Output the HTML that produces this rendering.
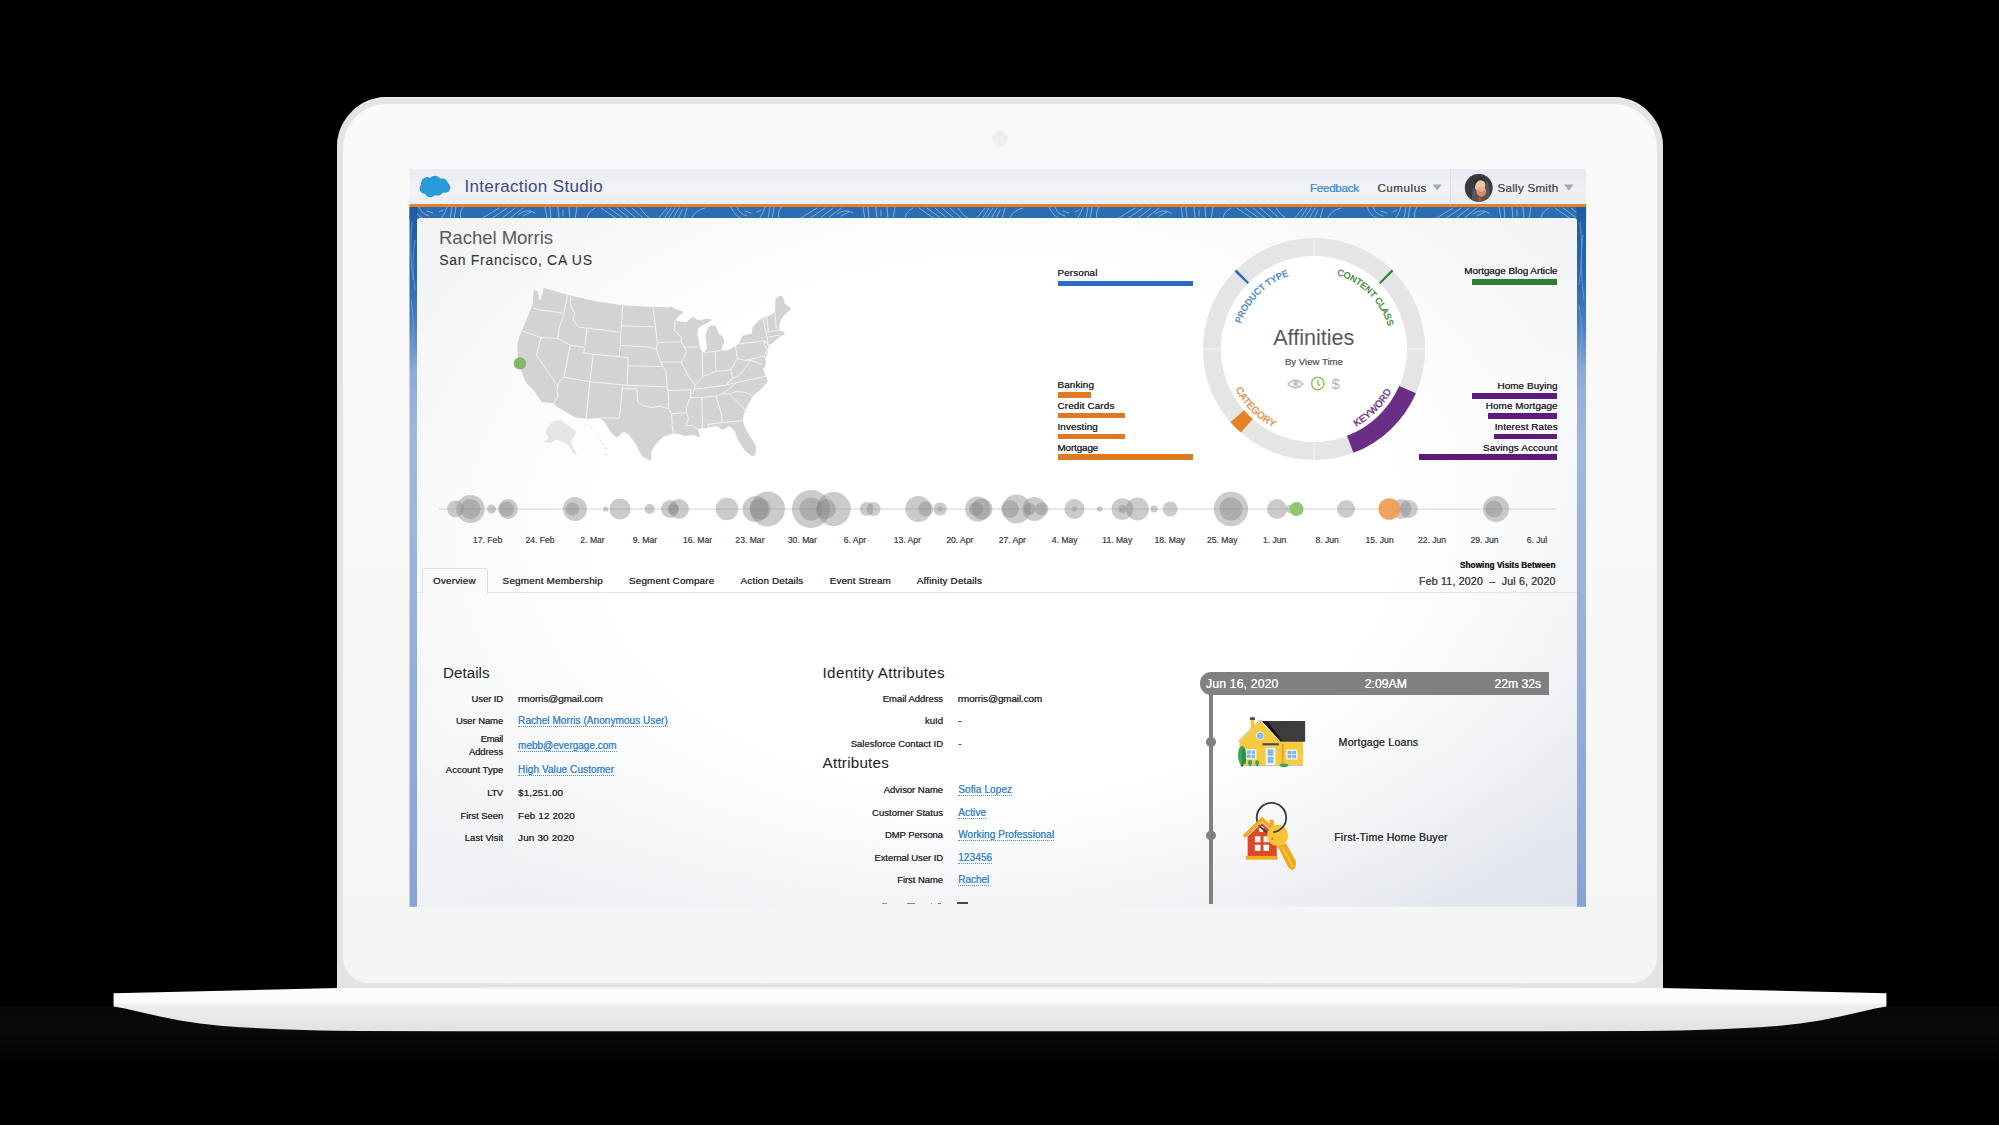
<!DOCTYPE html>
<html lang="en">
<head>
<meta charset="utf-8">
<title>Interaction Studio</title>
<style>
*{box-sizing:border-box;margin:0;padding:0}
html,body{width:1999px;height:1125px;overflow:hidden;background:#000}
body{position:relative;font-family:"Liberation Sans",sans-serif}
.abs{position:absolute}
.t{position:absolute;white-space:pre;line-height:1em;height:1em;text-shadow:0 0 0.4px currentColor}
.lnk{border-bottom:1px dotted #5a9ad6}
#lid{position:absolute;left:337.4px;top:97.4px;width:1325.3px;height:890.8px;background:#e4e4e4;border-radius:50px 50px 0 0}
#lid:before{content:"";position:absolute;left:0;right:0;top:0;height:52px;border-radius:50px 50px 0 0;border-top:1.5px solid #f1f1f1}
#lidin{position:absolute;left:343.4px;top:104.4px;width:1313.3px;height:878.4px;background:linear-gradient(180deg,#fafafa 0%,#f8f8f8 50%,#f5f5f5 100%);border-radius:44px 44px 26px 26px}
#cam{position:absolute;left:992px;top:131.4px;width:16px;height:16px;border-radius:50%;background:#efeff1}
#scr{position:absolute;left:0;top:0;width:1999px;height:1125px;clip-path:polygon(409.5px 169.2px,1586.1px 169.2px,1586.1px 906.8px,409.5px 906.8px)}
#hdr{position:absolute;left:409px;top:169px;width:1178px;height:36px;background:linear-gradient(180deg,#e9ecf0 0%,#f1f3f6 55%,#eceef2 100%)}
#org{position:absolute;left:409px;top:204.4px;width:1178px;height:2.8px;background:#e8802a}
#card{position:absolute;left:417px;top:218.4px;width:1159.6px;height:700px;border-radius:4px 4px 0 0;background:#fff}
</style>
</head>
<body>
<!-- laptop base -->
<svg class="abs" style="left:0;top:0" width="1999" height="1125" viewBox="0 0 1999 1125">
<defs>
<linearGradient id="bg1" x1="0" y1="0" x2="0" y2="1">
<stop offset="0" stop-color="#fdfdfd"/><stop offset="0.32" stop-color="#fbfbfb"/><stop offset="0.41" stop-color="#eeeeee"/><stop offset="0.75" stop-color="#e7e7e7"/><stop offset="0.95" stop-color="#e2e2e2"/><stop offset="1" stop-color="#ebebeb"/>
</linearGradient>
<linearGradient id="sh" x1="0" y1="0" x2="0" y2="1">
<stop offset="0" stop-color="#070707"/><stop offset="0.35" stop-color="#0a0a0a"/><stop offset="1" stop-color="#000"/>
</linearGradient>
</defs>
<rect x="0" y="1006" width="1999" height="62" fill="url(#sh)"/>
<path d="M113.6 993.2 L337.4 988 L1662.7 988 L1886.4 993.2 L1886.4 1006.4 L1875.0 1008.6 L1860.0 1012 L1840.0 1016.6 L1820.0 1020.6 L1800.0 1023.6 L1780.0 1025.7 L1760.0 1027.2 L1720.0 1029.2 L1680.0 1030.4 L1640.0 1031 L1540.0 1031.3 L460 1031.3 L360 1031 L320 1030.4 L280 1029.2 L240 1027.2 L220 1025.7 L200 1023.6 L180 1020.6 L160 1016.6 L140 1012 L125 1008.6 L113.6 1006.4 Z" fill="url(#bg1)"/>
</svg>
<div id="lid"></div>
<div id="lidin"></div>
<div id="cam"></div>
<div class="abs" style="left:482px;top:986.6px;width:1036px;height:2.6px;background:#f3f3f3"></div>
<div id="scr">
<div id="hdr"></div>
<svg class="abs" style="left:0;top:0" width="1999" height="1125" viewBox="0 0 1999 1125">
<defs>
<linearGradient id="lstripe" x1="0" y1="0" x2="0" y2="1">
<stop offset="0" stop-color="#1d5ba4"/><stop offset="0.10" stop-color="#2a67ae"/><stop offset="0.17" stop-color="#4a7fc0"/><stop offset="0.235" stop-color="#8dabd9"/><stop offset="0.34" stop-color="#a0b8df"/><stop offset="1" stop-color="#88a4d4"/>
</linearGradient>
<pattern id="topo" x="411" y="207" width="318" height="12" patternUnits="userSpaceOnUse">
<g fill="none" stroke="#a9c8ea" stroke-width="0.7" stroke-linecap="round">
<path d="M2 0 Q6 10 14 12 M8 0 Q10 7 18 9 M16 4 L22 6 M28 5 L32 3 M36 0 Q34 7 30 12 M41 0 L39 12 M45 0 L43 12 M52 0 Q48 6 50 12"/>
<path d="M70 12 L88 1 M80 12 L96 1 M90 12 L104 1 M98 12 L112 1 M108 7 Q116 1 124 6 M112 9 L120 5"/>
<path d="M134 0 L136 12 M139 0 L140 12 M147 0 L148 12 M152 3 L152 9 M158 0 L159 12 M166 0 L164 12 M176 12 Q176 5 184 1"/>
<path d="M190 1 L206 12 M198 1 L213 12 M206 1 L219 12 M213 1 L226 12 M221 1 L233 12 M229 1 Q234 9 240 12"/>
<path d="M247 12 L256 1 M253 12 L260 1 M257 12 L264 1 M262 12 L268 1 M267 12 L271 3 M273 12 L276 1 M280 12 Q284 3 294 1"/>
</g>
</pattern>
</defs>
<rect x="409" y="207" width="1178" height="12.5" fill="#2b6db2"/>
<rect x="409" y="207" width="1178" height="12.5" fill="url(#topo)"/>
<rect x="409" y="207" width="8.2" height="700" fill="url(#lstripe)"/>
<rect x="1576.4" y="207" width="10" height="700" fill="url(#lstripe)"/>
<g fill="none" stroke="#8fb5e2" stroke-width="0.7" opacity="0.8">
<path d="M412 222 Q409 250 413 280 M415 240 Q411 262 415 290 M411 300 Q415 320 412 345"/>
<path d="M1580 222 Q1584 250 1579 285 M1583 235 Q1579 262 1584 300 M1579 305 Q1584 330 1580 360"/>
</g>
</svg>
<div id="org"></div>
<div id="card"></div>
<div class="abs" style="left:417px;top:218.4px;width:1159.6px;height:690px;border-radius:4px 4px 0 0;background:
radial-gradient(ellipse 62% 70% at 50% 45%, rgba(255,255,255,1) 55%, rgba(255,255,255,0) 100%),
linear-gradient(163deg,#f1f3f5 0%,#f4f5f7 50%,#e9ecf1 80%,#e1e5eb 100%)"></div>
<svg class="abs" style="left:418px;top:174px" width="35" height="26" viewBox="0 0 35 26">
<g fill="#2a9bd8"><circle cx="9.2" cy="9.3" r="6.2"/><circle cx="17" cy="8.2" r="6.4"/><circle cx="24.2" cy="10" r="5.8"/><circle cx="27.2" cy="13.5" r="5.2"/><circle cx="6.8" cy="14.5" r="5.2"/><circle cx="12.3" cy="17.7" r="5.6"/><circle cx="19.5" cy="15.5" r="6.2"/><rect x="7" y="8" width="20" height="10"/></g>
</svg>
<div class="t" style="top:178px;font-size:17.0px;color:#3c4b7d;text-shadow:none;letter-spacing:0.350px;left:464.40px;">Interaction Studio</div>
<div class="t" style="top:182px;font-size:11.6px;color:#4a90da;letter-spacing:-0.280px;left:1310.00px;">Feedback</div>
<div class="t" style="top:182px;font-size:11.6px;color:#555;letter-spacing:0.547px;left:1377.40px;">Cumulus</div>
<div class="abs" style="left:1451px;top:169px;width:136px;height:35.3px;background:linear-gradient(180deg,#e6e9ee,#eef0f4 60%,#e9ecf0)"></div>
<div class="t" style="top:182px;font-size:11.6px;color:#555;letter-spacing:0.253px;left:1497.60px;">Sally Smith</div>
<div class="abs" style="left:1450px;top:169px;width:1px;height:35.5px;background:#dadde3"></div>
<svg class="abs" style="left:1430px;top:182px" width="150" height="12" viewBox="1430 182 150 12">
<path d="M1432.6 184.4 L1441.8 184.4 L1437.2 190.4 Z" fill="#a3a9b3"/>
<path d="M1564 184.4 L1573.6 184.4 L1568.8 190.4 Z" fill="#a3a9b3"/>
</svg>
<svg class="abs" style="left:1464px;top:173px" width="30" height="30" viewBox="0 0 30 30">
<defs><clipPath id="avc"><circle cx="14.7" cy="14.8" r="13.9"/></clipPath></defs>
<g clip-path="url(#avc)">
<rect width="30" height="30" fill="#3b3b3d"/>
<path d="M8 30 Q7 14 12 7 Q17 2 23 8 Q27 14 25 30Z" fill="#565658"/>
<ellipse cx="15.8" cy="12.2" rx="5.4" ry="6.6" fill="#eec5a8"/>
<ellipse cx="17.2" cy="18.4" rx="4.6" ry="5" fill="#e9b08c"/>
<path d="M13 16 Q17 22 21.5 16 Q21 23 17 24 Q13.5 22 13 16Z" fill="#d98a62"/>
<path d="M15.5 24 Q17 27 19 30 L14 30Z" fill="#d0603c"/>
<path d="M9.5 14 Q9 6 16 4.5 Q22 5 22.5 11 Q19 6.5 15 7.5 Q11 9 10.5 17Z" fill="#2f2f31"/>
</g>
<circle cx="14.7" cy="14.8" r="13.5" fill="none" stroke="#30476e" stroke-width="0.8" opacity="0.55"/>
</svg>
<div class="t" style="top:229px;font-size:18.6px;color:#5a5a5a;text-shadow:none;letter-spacing:-0.056px;left:439.00px;">Rachel Morris</div>
<div class="t" style="top:253px;font-size:14.0px;color:#333;text-shadow:none;letter-spacing:0.711px;left:439.20px;-webkit-text-stroke:0.1px #333;">San Francisco, CA US</div>
<svg class="abs" style="left:500px;top:275px" width="320" height="200" viewBox="0 0 1800 1125"><polygon points="190,80 215,95 218,138 228,140 238,112 245,72 380,112 395,116 540,148 690,170 860,180 950,182 958,176 968,180 1000,195 1035,208 1010,228 985,255 1010,262 1050,265 1068,248 1085,235 1105,250 1130,255 1160,246 1195,250 1170,268 1140,282 1115,300 1110,330 1118,370 1125,410 1137,430 1150,436 1165,410 1160,370 1155,340 1165,310 1178,290 1198,282 1218,290 1230,330 1252,345 1262,375 1250,405 1245,422 1275,425 1300,415 1325,400 1345,385 1358,355 1365,342 1390,335 1415,330 1418,310 1420,295 1445,268 1470,245 1500,235 1530,222 1545,210 1548,170 1550,135 1568,120 1585,115 1595,135 1602,160 1625,178 1640,190 1618,210 1600,225 1585,245 1575,265 1572,290 1570,310 1590,318 1605,330 1585,342 1570,350 1548,370 1530,385 1512,395 1508,420 1505,440 1495,458 1490,470 1495,485 1497,505 1480,530 1488,550 1496,570 1507,598 1490,620 1470,640 1445,662 1425,680 1400,720 1380,760 1370,790 1365,820 1380,860 1400,900 1425,935 1440,960 1440,990 1435,1012 1418,1020 1395,1003 1375,985 1355,955 1340,930 1330,905 1322,880 1305,862 1290,850 1268,862 1250,872 1232,858 1215,850 1185,855 1160,860 1135,862 1110,868 1122,895 1126,915 1105,905 1085,900 1060,902 1040,905 1005,895 975,890 945,900 920,910 892,935 870,960 858,980 850,1000 852,1025 848,1042 820,1032 800,1020 782,990 770,960 745,925 720,895 705,886 690,885 675,902 660,915 638,900 620,880 605,855 590,830 575,815 560,805 490,808 420,800 365,768 310,735 300,720 268,718 235,715 212,682 190,650 168,628 150,610 133,575 120,540 108,495 100,450 97,415 100,380 110,345 125,310 145,260 165,210 176,185 185,160 186,120" fill="#d3d3d3"/><g fill="none" stroke="#f6f6f6" stroke-width="5.2" stroke-linejoin="round"><polyline points="185,185 215,195 290,205 360,215"/><polyline points="380,112 360,215 345,262 335,290 325,357"/><polyline points="125,315 230,352 325,357 395,395 475,408"/><polyline points="395,118 400,180 420,215 410,245 440,292 490,300 478,400"/><polyline points="490,298 680,322"/><polyline points="690,170 684,285 680,322 676,395 670,460"/><polyline points="470,437 525,446 670,460 720,465"/><polyline points="230,352 205,450 325,625 320,652 326,682 305,720"/><polyline points="395,395 360,575 332,600 325,625"/><polyline points="478,408 470,437"/><polyline points="525,446 505,600"/><polyline points="360,575 505,600 715,620"/><polyline points="720,465 720,510 715,620"/><polyline points="505,600 485,806"/><polyline points="690,622 672,806 560,803"/><polyline points="684,285 875,292"/><polyline points="676,395 830,405 880,417"/><polyline points="860,180 868,240 875,292 885,380 880,417 905,490 915,515 935,545 940,630"/><polyline points="720,510 915,515"/><polyline points="715,620 940,630"/><polyline points="690,640 770,641 775,715 810,735 850,745 900,740 950,752"/><polyline points="940,630 945,650 950,752 965,780 968,840 975,890"/><polyline points="885,380 1020,375"/><polyline points="985,255 980,310 1020,350 1020,375 1050,430 1030,470 1020,490 1060,570 1100,620"/><polyline points="905,490 1020,490"/><polyline points="945,650 1075,645 1070,668 1085,665 1100,620"/><polyline points="965,780 1050,775"/><polyline points="1075,645 1070,690 1050,740 1050,775 1060,810 1045,845 1095,850 1110,868"/><polyline points="1030,405 1115,405"/><polyline points="1137,430 1140,570 1100,620"/><polyline points="1140,570 1175,560 1215,540 1260,540 1300,532 1335,470 1325,400"/><polyline points="1210,430 1215,540"/><polyline points="1150,436 1210,430 1250,422"/><polyline points="1095,642 1270,620 1330,605 1495,570"/><polyline points="1070,690 1135,690 1215,680 1250,670 1290,640 1330,605"/><polyline points="1135,690 1140,862"/><polyline points="1215,680 1245,780 1250,830 1170,840 1175,860"/><polyline points="1250,830 1365,820"/><polyline points="1250,670 1290,668 1380,760"/><polyline points="1290,668 1330,655 1380,660 1425,680"/><polyline points="1300,532 1310,580 1270,620"/><polyline points="1310,580 1340,570 1380,520 1410,480 1440,490"/><polyline points="1335,470 1380,480 1490,455"/><polyline points="1345,388 1490,370 1510,395"/><polyline points="1490,370 1485,390 1505,420 1490,445"/><polyline points="1480,245 1490,300 1500,340 1510,395"/><polyline points="1500,235 1508,300 1510,320"/><polyline points="1545,210 1555,300"/><polyline points="1500,322 1570,310"/><polyline points="1512,348 1572,338"/><polyline points="1380,480 1410,480 1440,490 1470,500"/></g><polygon points="260,870 300,820 340,815 385,848 430,880 415,910 400,940 412,975 432,1005 428,1015 410,1000 385,955 340,935 315,925 290,945 240,940 275,920 262,895" fill="#e5e5e5"/><g fill="#e2e2e2"><circle cx="490" cy="845" r="4"/><circle cx="515" cy="855" r="5"/><circle cx="550" cy="910" r="6"/><circle cx="566" cy="935" r="5"/><circle cx="582" cy="952" r="6"/><circle cx="597" cy="975" r="6"/><circle cx="598" cy="1008" r="6"/></g><circle cx="112" cy="497" r="35" fill="#83b766"/></svg>
<div class="abs" style="left:1057.6px;top:280.8px;width:135.4px;height:5.5px;background:#2a6cc0"></div>
<div class="abs" style="left:1057.6px;top:392.4px;width:33.3px;height:5.2px;background:#e07a22"></div>
<div class="abs" style="left:1057.6px;top:412.9px;width:67.1px;height:5.5px;background:#e07a22"></div>
<div class="abs" style="left:1057.6px;top:434px;width:67.1px;height:5.4px;background:#e07a22"></div>
<div class="abs" style="left:1057.6px;top:454.3px;width:135.4px;height:5.6px;background:#e07a22"></div>
<div class="abs" style="left:1471.9px;top:278.9px;width:85.5px;height:5.8px;background:#2e7f33"></div>
<div class="abs" style="left:1472.3px;top:393.2px;width:85.1px;height:5.5px;background:#5c1a7c"></div>
<div class="abs" style="left:1488px;top:413.3px;width:69.4px;height:5.4px;background:#5c1a7c"></div>
<div class="abs" style="left:1494.2px;top:433.9px;width:63.2px;height:5.4px;background:#5c1a7c"></div>
<div class="abs" style="left:1419px;top:454.1px;width:138.4px;height:5.7px;background:#5c1a7c"></div>
<div class="t" style="top:268px;font-size:9.9px;color:#2b2b2b;letter-spacing:0.128px;left:1057.50px;">Personal</div>
<div class="t" style="top:380px;font-size:9.9px;color:#2b2b2b;letter-spacing:0.118px;left:1057.50px;">Banking</div>
<div class="t" style="top:401px;font-size:9.9px;color:#2b2b2b;letter-spacing:0.128px;left:1057.50px;">Credit Cards</div>
<div class="t" style="top:422px;font-size:9.9px;color:#2b2b2b;letter-spacing:0.097px;left:1057.50px;">Investing</div>
<div class="t" style="top:443px;font-size:9.9px;color:#2b2b2b;letter-spacing:-0.140px;left:1057.50px;">Mortgage</div>
<div class="t" style="top:266px;font-size:9.9px;color:#2b2b2b;letter-spacing:-0.024px;right:441.42px;">Mortgage Blog Article</div>
<div class="t" style="top:381px;font-size:9.9px;color:#2b2b2b;letter-spacing:0.088px;right:441.31px;">Home Buying</div>
<div class="t" style="top:401px;font-size:9.9px;color:#2b2b2b;letter-spacing:0.086px;right:441.31px;">Home Mortgage</div>
<div class="t" style="top:422px;font-size:9.9px;color:#2b2b2b;letter-spacing:0.112px;right:441.29px;">Interest Rates</div>
<div class="t" style="top:443px;font-size:9.9px;color:#2b2b2b;letter-spacing:0.120px;right:441.28px;">Savings Account</div>
<svg class="abs" style="left:1190px;top:225px" width="250" height="250" viewBox="1190 225 250 250"><circle cx="1314.0" cy="349.0" r="102.0" fill="none" stroke="#e5e5e5" stroke-width="18.19999999999999"/><circle cx="1314.0" cy="349.0" r="92.9" fill="#fff"/><line x1="1314.00" y1="256.60" x2="1314.00" y2="237.40" stroke="#f3f3f3" stroke-width="1.3"/><line x1="1406.40" y1="349.00" x2="1425.60" y2="349.00" stroke="#f3f3f3" stroke-width="1.3"/><line x1="1314.00" y1="441.40" x2="1314.00" y2="460.60" stroke="#f3f3f3" stroke-width="1.3"/><line x1="1221.60" y1="349.00" x2="1202.40" y2="349.00" stroke="#f3f3f3" stroke-width="1.3"/><path d="M1415.89 393.30 A111.1 111.1 0 0 1 1353.45 452.86 L1346.99 435.85 A92.9 92.9 0 0 0 1399.19 386.04Z" fill="#6a2e84"/><path d="M1240.82 432.59 A111.1 111.1 0 0 1 1230.41 422.18 L1244.10 410.19 A92.9 92.9 0 0 0 1252.81 418.90Z" fill="#e58226"/><path d="M1234.49 271.41 A111.1 111.1 0 0 1 1236.41 269.49 L1249.12 282.51 A92.9 92.9 0 0 0 1247.51 284.12Z" fill="#2a6cc0"/><path d="M1391.73 269.62 A111.1 111.1 0 0 1 1393.38 271.27 L1380.37 284.00 A92.9 92.9 0 0 0 1379.00 282.63Z" fill="#2e7f33"/><defs><path id="pPT" d="M1236.40 349.00 A77.6 77.6 0 0 1 1314.00 271.40" fill="none"/><path id="pCC" d="M1314.00 271.40 A77.6 77.6 0 0 1 1391.60 349.00" fill="none"/><path id="pCA" d="M1225.80 349.00 A88.2 88.2 0 0 0 1314.00 437.20" fill="none"/><path id="pKW" d="M1314.00 437.20 A88.2 88.2 0 0 0 1402.20 349.00" fill="none"/></defs><text font-family="Liberation Sans, sans-serif" font-size="8.9" fill="#3b7fd0" stroke="#3b7fd0" stroke-width="0.35" letter-spacing="0.1"><textPath href="#pPT" startOffset="50%" text-anchor="middle">PRODUCT TYPE</textPath></text><text font-family="Liberation Sans, sans-serif" font-size="8.9" fill="#3d8a3a" stroke="#3d8a3a" stroke-width="0.35" letter-spacing="0.1"><textPath href="#pCC" startOffset="50%" text-anchor="middle">CONTENT CLASS</textPath></text><text font-family="Liberation Sans, sans-serif" font-size="9.6" fill="#e58a35" stroke="#e58a35" stroke-width="0.35" letter-spacing="0.2"><textPath href="#pCA" startOffset="50%" text-anchor="middle">CATEGORY</textPath></text><text font-family="Liberation Sans, sans-serif" font-size="9.6" fill="#6a2e84" stroke="#6a2e84" stroke-width="0.35" letter-spacing="0.2"><textPath href="#pKW" startOffset="50%" text-anchor="middle">KEYWORD</textPath></text><g fill="none" stroke="#bdbdbd" stroke-width="1.3"><path d="M1288 384 Q1295.5 376.5 1303 384 Q1295.5 391.5 1288 384Z"/><circle cx="1295.8" cy="383.6" r="2.6" fill="#c4c4c4" stroke="none"/></g>
<circle cx="1317.8" cy="383.5" r="6.2" fill="none" stroke="#8cc152" stroke-width="1.4"/><path d="M1317.8 379.6 L1317.8 384 L1320 385.6" fill="none" stroke="#8cc152" stroke-width="1.3"/></svg>
<div class="t" style="top:327px;font-size:21.6px;color:#595959;text-shadow:none;left:1313.80px;transform:translateX(-50%);">Affinities</div>
<div class="t" style="top:357px;font-size:9.6px;color:#666;left:1313.90px;transform:translateX(-50%);">By View Time</div>
<div class="t" style="top:376px;font-size:15.0px;color:#b3b3b3;text-shadow:none;left:1335.60px;transform:translateX(-50%);">$</div>
<svg class="abs" style="left:430px;top:485px" width="1140" height="50" viewBox="430 485 1140 50"><line x1="439" y1="509" x2="1555.5" y2="509" stroke="#d2d2d2" stroke-width="1"/><circle cx="455.5" cy="509" r="8.4" fill="rgba(135,135,135,0.43)"/><circle cx="470.5" cy="509" r="14.1" fill="rgba(135,135,135,0.43)"/><circle cx="470.5" cy="509" r="10" fill="rgba(135,135,135,0.43)"/><circle cx="491.5" cy="509" r="4.5" fill="rgba(135,135,135,0.43)"/><circle cx="508" cy="509" r="9.9" fill="rgba(135,135,135,0.43)"/><circle cx="506.5" cy="509" r="7.5" fill="rgba(135,135,135,0.43)"/><circle cx="575" cy="509" r="12" fill="rgba(135,135,135,0.43)"/><circle cx="572.5" cy="509" r="6.6" fill="rgba(135,135,135,0.43)"/><circle cx="605.6" cy="509" r="2.6" fill="rgba(135,135,135,0.43)"/><circle cx="620" cy="509" r="10.5" fill="rgba(135,135,135,0.43)"/><circle cx="649.7" cy="509" r="5.1" fill="rgba(135,135,135,0.43)"/><circle cx="670" cy="509" r="9" fill="rgba(135,135,135,0.43)"/><circle cx="679" cy="509" r="10" fill="rgba(135,135,135,0.43)"/><circle cx="673" cy="509" r="5.5" fill="rgba(135,135,135,0.43)"/><circle cx="727" cy="509" r="11.2" fill="rgba(135,135,135,0.43)"/><circle cx="755.6" cy="509" r="13" fill="rgba(135,135,135,0.43)"/><circle cx="767.6" cy="509" r="17.4" fill="rgba(135,135,135,0.43)"/><circle cx="760" cy="509" r="10.5" fill="rgba(135,135,135,0.43)"/><circle cx="811" cy="509" r="19" fill="rgba(135,135,135,0.43)"/><circle cx="811" cy="509" r="11.5" fill="rgba(135,135,135,0.43)"/><circle cx="833.7" cy="509" r="17" fill="rgba(135,135,135,0.43)"/><circle cx="826" cy="509" r="10" fill="rgba(135,135,135,0.43)"/><circle cx="866.7" cy="509" r="6.9" fill="rgba(135,135,135,0.43)"/><circle cx="873.6" cy="509" r="6.9" fill="rgba(135,135,135,0.43)"/><circle cx="918.3" cy="509" r="13" fill="rgba(135,135,135,0.43)"/><circle cx="925.8" cy="509" r="7.5" fill="rgba(135,135,135,0.43)"/><circle cx="940.2" cy="509" r="6.6" fill="rgba(135,135,135,0.43)"/><circle cx="940.2" cy="509" r="2.5" fill="rgba(135,135,135,0.43)"/><circle cx="977.7" cy="509" r="12.6" fill="rgba(135,135,135,0.43)"/><circle cx="982" cy="509" r="10.5" fill="rgba(135,135,135,0.43)"/><circle cx="976" cy="509" r="7" fill="rgba(135,135,135,0.43)"/><circle cx="1016.5" cy="509" r="14.4" fill="rgba(135,135,135,0.43)"/><circle cx="1010" cy="509" r="9" fill="rgba(135,135,135,0.43)"/><circle cx="1034.5" cy="509" r="12" fill="rgba(135,135,135,0.43)"/><circle cx="1042" cy="509" r="6.6" fill="rgba(135,135,135,0.43)"/><circle cx="1030" cy="509" r="6" fill="rgba(135,135,135,0.43)"/><circle cx="1074.4" cy="509" r="10" fill="rgba(135,135,135,0.43)"/><circle cx="1074.4" cy="509" r="2.5" fill="rgba(135,135,135,0.43)"/><circle cx="1099.6" cy="509" r="2.8" fill="rgba(135,135,135,0.43)"/><circle cx="1122.4" cy="509" r="10.8" fill="rgba(135,135,135,0.43)"/><circle cx="1122.4" cy="509" r="4" fill="rgba(135,135,135,0.43)"/><circle cx="1137.5" cy="509" r="11.4" fill="rgba(135,135,135,0.43)"/><circle cx="1154" cy="509" r="3.6" fill="rgba(135,135,135,0.43)"/><circle cx="1170.2" cy="509" r="7.5" fill="rgba(135,135,135,0.43)"/><circle cx="1231" cy="509" r="17.2" fill="rgba(135,135,135,0.43)"/><circle cx="1231" cy="509" r="11.5" fill="rgba(135,135,135,0.43)"/><circle cx="1277" cy="509" r="10" fill="rgba(135,135,135,0.43)"/><circle cx="1290" cy="509" r="4" fill="rgba(135,135,135,0.43)"/><circle cx="1346" cy="509" r="9" fill="rgba(135,135,135,0.43)"/><circle cx="1401.3" cy="509" r="10" fill="rgba(135,135,135,0.43)"/><circle cx="1408.8" cy="509" r="9" fill="rgba(135,135,135,0.43)"/><circle cx="1496" cy="509" r="13" fill="rgba(135,135,135,0.43)"/><circle cx="1494" cy="509" r="8.5" fill="rgba(135,135,135,0.43)"/><circle cx="1296.5" cy="509" r="7" fill="#8dc66c"/><circle cx="1389.3" cy="509" r="10.8" fill="#ef9b55" fill-opacity="0.93"/></svg>
<div class="t" style="top:536px;font-size:8.6px;color:#555;left:487.60px;transform:translateX(-50%);">17. Feb</div>
<div class="t" style="top:536px;font-size:8.6px;color:#555;left:540.07px;transform:translateX(-50%);">24. Feb</div>
<div class="t" style="top:536px;font-size:8.6px;color:#555;left:592.54px;transform:translateX(-50%);">2. Mar</div>
<div class="t" style="top:536px;font-size:8.6px;color:#555;left:645.01px;transform:translateX(-50%);">9. Mar</div>
<div class="t" style="top:536px;font-size:8.6px;color:#555;left:697.48px;transform:translateX(-50%);">16. Mar</div>
<div class="t" style="top:536px;font-size:8.6px;color:#555;left:749.95px;transform:translateX(-50%);">23. Mar</div>
<div class="t" style="top:536px;font-size:8.6px;color:#555;left:802.42px;transform:translateX(-50%);">30. Mar</div>
<div class="t" style="top:536px;font-size:8.6px;color:#555;left:854.89px;transform:translateX(-50%);">6. Apr</div>
<div class="t" style="top:536px;font-size:8.6px;color:#555;left:907.36px;transform:translateX(-50%);">13. Apr</div>
<div class="t" style="top:536px;font-size:8.6px;color:#555;left:959.83px;transform:translateX(-50%);">20. Apr</div>
<div class="t" style="top:536px;font-size:8.6px;color:#555;left:1012.30px;transform:translateX(-50%);">27. Apr</div>
<div class="t" style="top:536px;font-size:8.6px;color:#555;left:1064.77px;transform:translateX(-50%);">4. May</div>
<div class="t" style="top:536px;font-size:8.6px;color:#555;left:1117.24px;transform:translateX(-50%);">11. May</div>
<div class="t" style="top:536px;font-size:8.6px;color:#555;left:1169.71px;transform:translateX(-50%);">18. May</div>
<div class="t" style="top:536px;font-size:8.6px;color:#555;left:1222.18px;transform:translateX(-50%);">25. May</div>
<div class="t" style="top:536px;font-size:8.6px;color:#555;left:1274.65px;transform:translateX(-50%);">1. Jun</div>
<div class="t" style="top:536px;font-size:8.6px;color:#555;left:1327.12px;transform:translateX(-50%);">8. Jun</div>
<div class="t" style="top:536px;font-size:8.6px;color:#555;left:1379.59px;transform:translateX(-50%);">15. Jun</div>
<div class="t" style="top:536px;font-size:8.6px;color:#555;left:1432.06px;transform:translateX(-50%);">22. Jun</div>
<div class="t" style="top:536px;font-size:8.6px;color:#555;left:1484.53px;transform:translateX(-50%);">29. Jun</div>
<div class="t" style="top:536px;font-size:8.6px;color:#555;left:1537.00px;transform:translateX(-50%);">6. Jul</div>
<div class="abs" style="left:417px;top:592.2px;width:1160px;height:1px;background:#e2e3e5"></div>
<div class="abs" style="left:421.5px;top:568.2px;width:66.6px;height:25px;border:1px solid #dfdfdf;border-bottom:none;border-radius:3px 3px 0 0;background:#fafafa"></div>
<div class="t" style="top:576px;font-size:9.9px;color:#333;letter-spacing:0.205px;left:433.00px;">Overview</div>
<div class="t" style="top:576px;font-size:9.9px;color:#333;letter-spacing:0.209px;left:502.60px;">Segment Membership</div>
<div class="t" style="top:576px;font-size:9.9px;color:#333;letter-spacing:0.167px;left:629.00px;">Segment Compare</div>
<div class="t" style="top:576px;font-size:9.9px;color:#333;letter-spacing:0.177px;left:740.60px;">Action Details</div>
<div class="t" style="top:576px;font-size:9.9px;color:#333;letter-spacing:0.102px;left:829.80px;">Event Stream</div>
<div class="t" style="top:576px;font-size:9.9px;color:#333;letter-spacing:0.179px;left:916.80px;">Affinity Details</div>
<div class="t" style="top:562px;font-size:8.2px;color:#222;font-weight:700;letter-spacing:0.065px;right:443.53px;">Showing Visits Between</div>
<div class="t" style="top:576px;font-size:10.6px;color:#444;letter-spacing:0.192px;right:443.41px;">Feb 11, 2020  –  Jul 6, 2020</div>
<div class="t" style="top:665px;font-size:15.2px;color:#222;text-shadow:none;letter-spacing:0.020px;left:443.00px;">Details</div>
<div class="t" style="top:665px;font-size:15.2px;color:#222;text-shadow:none;letter-spacing:0.311px;left:822.60px;">Identity Attributes</div>
<div class="t" style="top:755px;font-size:15.2px;color:#222;text-shadow:none;letter-spacing:0.229px;left:822.60px;">Attributes</div>
<div class="t" style="top:694px;font-size:9.5px;color:#333;letter-spacing:-0.100px;right:1495.90px;">User ID</div>
<div class="t" style="top:694px;font-size:9.9px;color:#333;letter-spacing:-0.068px;left:518.10px;">rmorris@gmail.com</div>
<div class="t" style="top:716px;font-size:9.5px;color:#333;letter-spacing:-0.093px;right:1495.89px;">User Name</div>
<div class="t" style="top:716px;font-size:10.0px;color:#3d87cf;letter-spacing:0.066px;left:518.10px;border-bottom:1px dotted #4b90d4;height:11.00px;">Rachel Morris (Anonymous User)</div>
<div class="t" style="top:734px;font-size:9.5px;color:#333;letter-spacing:-0.311px;right:1496.11px;">Email</div>
<div class="t" style="top:747px;font-size:9.5px;color:#333;letter-spacing:-0.093px;right:1495.89px;">Address</div>
<div class="t" style="top:741px;font-size:10.0px;color:#3d87cf;left:518.10px;border-bottom:1px dotted #4b90d4;height:11.00px;">mebb@evergage.com</div>
<div class="t" style="top:765px;font-size:9.5px;color:#333;right:1495.80px;">Account Type</div>
<div class="t" style="top:765px;font-size:10.0px;color:#3d87cf;letter-spacing:0.095px;left:518.10px;border-bottom:1px dotted #4b90d4;height:11.00px;">High Value Customer</div>
<div class="t" style="top:788px;font-size:9.5px;color:#333;letter-spacing:-0.439px;right:1496.24px;">LTV</div>
<div class="t" style="top:788px;font-size:9.9px;color:#333;letter-spacing:0.129px;left:518.10px;">$1,251.00</div>
<div class="t" style="top:811px;font-size:9.5px;color:#333;letter-spacing:-0.059px;right:1495.86px;">First Seen</div>
<div class="t" style="top:811px;font-size:9.9px;color:#333;letter-spacing:0.119px;left:518.10px;">Feb 12 2020</div>
<div class="t" style="top:833px;font-size:9.5px;color:#333;right:1495.80px;">Last Visit</div>
<div class="t" style="top:833px;font-size:9.9px;color:#333;letter-spacing:0.164px;left:518.10px;">Jun 30 2020</div>
<div class="t" style="top:694px;font-size:9.5px;color:#333;letter-spacing:-0.032px;right:1055.93px;">Email Address</div>
<div class="t" style="top:694px;font-size:9.9px;color:#333;letter-spacing:-0.080px;left:957.80px;">rmorris@gmail.com</div>
<div class="t" style="top:716px;font-size:9.5px;color:#333;letter-spacing:0.086px;right:1055.81px;">kuId</div>
<div class="t" style="top:716px;font-size:9.9px;color:#333;left:958.20px;">-</div>
<div class="t" style="top:739px;font-size:9.5px;color:#333;right:1055.90px;">Salesforce Contact ID</div>
<div class="t" style="top:739px;font-size:9.9px;color:#333;left:958.20px;">-</div>
<div class="t" style="top:785px;font-size:9.5px;color:#333;letter-spacing:-0.030px;right:1055.93px;">Advisor Name</div>
<div class="t" style="top:785px;font-size:10.0px;color:#3d87cf;letter-spacing:0.107px;left:958.20px;border-bottom:1px dotted #4b90d4;height:11.00px;">Sofia Lopez</div>
<div class="t" style="top:808px;font-size:9.5px;color:#333;letter-spacing:0.023px;right:1055.88px;">Customer Status</div>
<div class="t" style="top:808px;font-size:10.0px;color:#3d87cf;letter-spacing:0.145px;left:958.20px;border-bottom:1px dotted #4b90d4;height:11.00px;">Active</div>
<div class="t" style="top:830px;font-size:9.5px;color:#333;letter-spacing:-0.078px;right:1055.98px;">DMP Persona</div>
<div class="t" style="top:830px;font-size:10.0px;color:#3d87cf;letter-spacing:0.085px;left:958.20px;border-bottom:1px dotted #4b90d4;height:11.00px;">Working Professional</div>
<div class="t" style="top:853px;font-size:9.5px;color:#333;letter-spacing:-0.068px;right:1055.97px;">External User ID</div>
<div class="t" style="top:853px;font-size:10.0px;color:#3d87cf;letter-spacing:0.122px;left:958.20px;border-bottom:1px dotted #4b90d4;height:11.00px;">123456</div>
<div class="t" style="top:875px;font-size:9.5px;color:#333;letter-spacing:-0.065px;right:1055.96px;">First Name</div>
<div class="t" style="top:875px;font-size:10.0px;color:#3d87cf;left:958.20px;border-bottom:1px dotted #4b90d4;height:11.00px;">Rachel</div>
<div class="abs" style="left:882px;top:902.8px;width:5.0px;height:1px;background:#999"></div>
<div class="abs" style="left:906.5px;top:902.8px;width:8.0px;height:1px;background:#888"></div>
<div class="abs" style="left:931px;top:902.8px;width:1.2px;height:1px;background:#aaa"></div>
<div class="abs" style="left:937.6px;top:902.8px;width:3.0px;height:1px;background:#777"></div>
<div class="abs" style="left:957px;top:902px;width:11.2px;height:1.8px;background:#4a4a4a"></div>
<div class="abs" style="left:1199.6px;top:672.1px;width:349.8px;height:22.6px;background:#808080;border-radius:11.3px 0 0 11.3px"></div>
<div class="abs" style="left:1209.4px;top:690px;width:3.4px;height:214px;background:#808080"></div>
<div class="abs" style="left:1206.4px;top:737.4px;width:9.4px;height:9.4px;border-radius:50%;background:#808080"></div>
<div class="abs" style="left:1206.4px;top:831px;width:9.4px;height:9.4px;border-radius:50%;background:#808080"></div>
<div class="t" style="top:678px;font-size:12.2px;color:#fff;letter-spacing:0.171px;left:1206.00px;">Jun 16, 2020</div>
<div class="t" style="top:678px;font-size:12.2px;color:#fff;left:1385.80px;transform:translateX(-50%);">2:09AM</div>
<div class="t" style="top:678px;font-size:12.2px;color:#fff;right:457.80px;">22m 32s</div>
<div class="t" style="top:737px;font-size:10.6px;color:#333;letter-spacing:0.228px;left:1338.60px;">Mortgage Loans</div>
<div class="t" style="top:832px;font-size:10.6px;color:#333;letter-spacing:0.212px;left:1334.20px;">First-Time Home Buyer</div>
<svg class="abs" style="left:1225px;top:705px" width="100" height="75" viewBox="0 0 1500 1125">
<rect x="385" y="222" width="55" height="130" fill="#f7c93e"/><rect x="375" y="185" width="74" height="40" rx="8" fill="#4a4a4a"/>
<polygon points="525,238 216,545 222,905 1170,905 1170,545 830,545" fill="#f7ca3f"/>
<polygon points="555,240 1202,240 1202,552 838,552" fill="#3c3c3c"/>
<polygon points="560,243 640,250 852,528 836,548" fill="#111"/>
<path d="M197 548 L525 222 L560 252" fill="none" stroke="#a9a9a9" stroke-width="15" stroke-linejoin="miter"/>
<circle cx="528" cy="462" r="58" fill="#7db9e9" stroke="#fff" stroke-width="12"/>
<path d="M505 440 h46 M528 440 v46" stroke="#a9d3f1" stroke-width="10"/>
<rect x="563" y="573" width="244" height="36" fill="#4d4d48"/><rect x="575" y="610" width="226" height="14" fill="#f6d4a4"/>
<rect x="850" y="580" width="32" height="312" fill="#eda51f"/>
<rect x="610" y="643" width="146" height="255" fill="#f4f6f8"/><rect x="640" y="668" width="86" height="92" fill="#7db9e9"/><rect x="640" y="778" width="86" height="92" fill="#7db9e9"/>
<rect x="310" y="663" width="162" height="154" fill="#f4f6f8"/><rect x="330" y="683" width="122" height="114" fill="#7db9e9"/><path d="M391 683 v114 M330 740 h122" stroke="#f4f6f8" stroke-width="12"/>
<rect x="918" y="668" width="168" height="150" fill="#f4f6f8"/><rect x="938" y="688" width="128" height="110" fill="#7db9e9"/><path d="M1002 688 v110 M938 743 h128" stroke="#f4f6f8" stroke-width="12"/>
<rect x="222" y="900" width="948" height="16" fill="#c2c2c2"/>
<rect x="243" y="870" width="28" height="52" fill="#3a3a3a"/><ellipse cx="257" cy="755" rx="62" ry="140" fill="#3aa757"/><path d="M257 615 Q330 740 310 880 L257 895Z" fill="#2f8e49"/>
<rect x="368" y="890" width="16" height="28" fill="#3a3a3a"/><ellipse cx="376" cy="862" rx="30" ry="42" fill="#3aa757"/>
<rect x="474" y="890" width="16" height="28" fill="#3a3a3a"/><ellipse cx="482" cy="864" rx="31" ry="38" fill="#3aa757"/>
<ellipse cx="885" cy="903" rx="66" ry="27" fill="#3aa757"/>
</svg>
<svg class="abs" style="left:1225px;top:795px" width="100" height="85" viewBox="0 0 1324 1125">
<circle cx="615" cy="300" r="195" fill="none" stroke="#3b3b3d" stroke-width="24"/>
<polygon points="490,372 300,548 300,812 686,812 686,548" fill="#dd4927"/>
<rect x="590" y="328" width="56" height="90" rx="10" fill="#f2a922"/>
<path d="M252 552 L490 322 L612 432" fill="none" stroke="#f2a922" stroke-width="50" stroke-linejoin="miter"/>
<rect x="278" y="806" width="418" height="50" fill="#f2a922"/>
<g fill="#f6f4f4"><rect x="396" y="546" width="74" height="80" rx="6"/><rect x="510" y="546" width="74" height="80" rx="6"/><rect x="396" y="660" width="74" height="80" rx="6"/><rect x="510" y="660" width="74" height="80" rx="6"/></g>
<ellipse cx="482" cy="452" rx="32" ry="38" fill="#f6f4f4"/>
<path d="M468 424 L548 492" stroke="#3b3b3d" stroke-width="24" stroke-linecap="round"/>
<polygon points="690,668 808,640 940,880 932,962 892,998 838,958" fill="#f2a922"/>
<path d="M760 690 L905 960" stroke="#f6c535" stroke-width="22"/>
<circle cx="697" cy="535" r="140" fill="#f6c535"/>
<circle cx="626" cy="580" r="15" fill="#e5573a"/>
<path d="M648 492 Q720 478 770 420" fill="none" stroke="#3b3b3d" stroke-width="24" stroke-linecap="round"/>
</svg>
</div>
</body>
</html>
